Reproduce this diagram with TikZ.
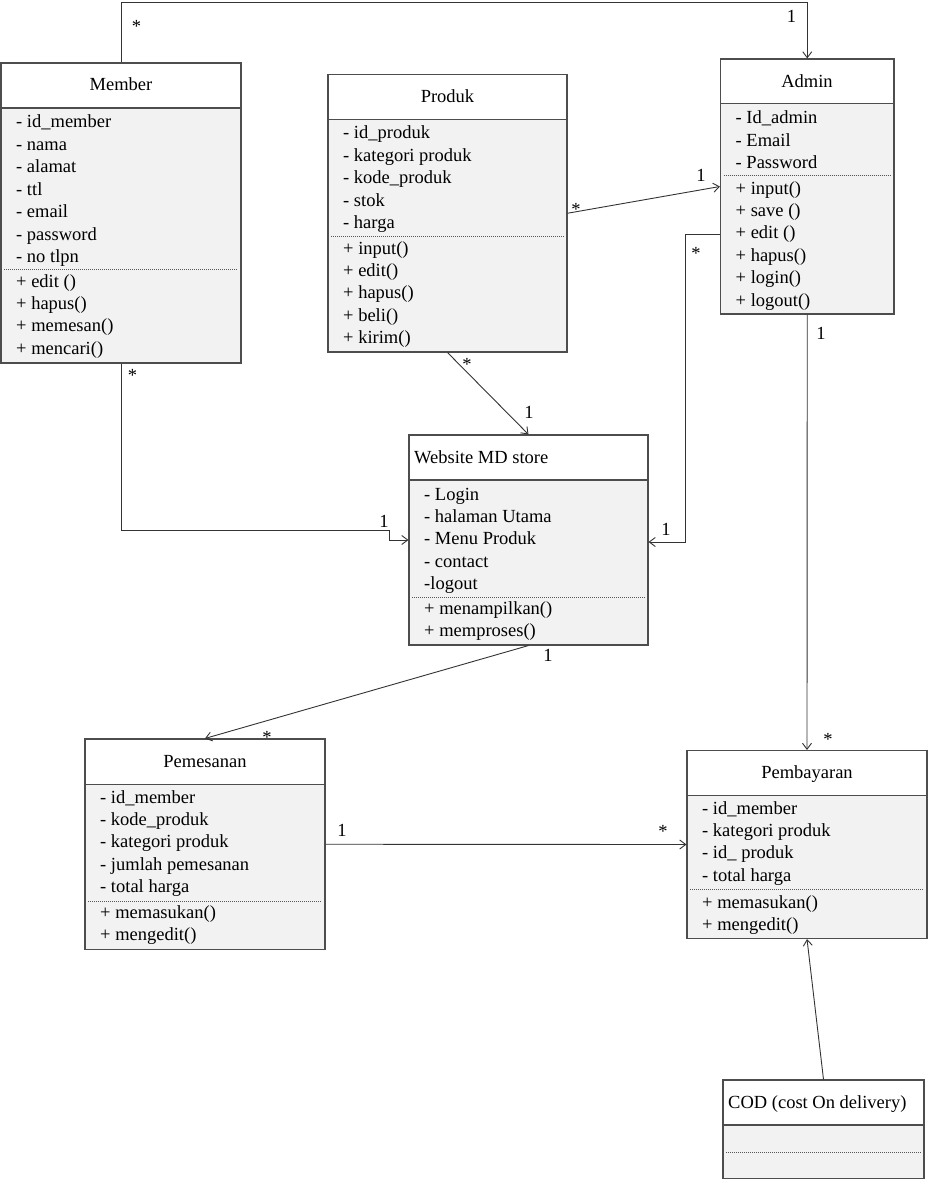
\documentclass[tikz,border=0pt]{standalone}
\usepackage{fontspec}
\setmainfont{Liberation Serif}
\usetikzlibrary{arrows.meta,fit}
\definecolor{compfill}{HTML}{F2F2F2}
\definecolor{boxline}{HTML}{4D4D4D}
\definecolor{connline}{HTML}{333333}
\definecolor{sepcol}{HTML}{555555}
\tikzset{
  classframe/.style={draw=boxline, line width=1.1pt, inner sep=0pt},
  sepline/.style={draw=sepcol, line width=0.8pt, dash pattern=on 1pt off 1pt},
  memtext/.style={anchor=base west, inner sep=0pt, font=\fontsize{18.5}{22}\selectfont},
  titletext/.style={anchor=base, inner sep=0pt, font=\fontsize{18.5}{22}\selectfont},
  titleleft/.style={anchor=base west, inner sep=0pt, font=\fontsize{18.5}{22}\selectfont},
  mult/.style={anchor=base, inner sep=0pt, font=\fontsize{18.5}{22}\selectfont},
  assoc/.style={draw=connline, line width=0.9pt, -{Straight Barb[length=6pt,width=9pt]}}
}
\newcommand{\umlclass}[7]{%
  \fill[compfill] (#2,#6) rectangle (#4,#5);
  \node[classframe, fit={(#2,#3) (#4,#5)}] (#1) {};
  \draw[boxline, line width=1.1pt] (#2,#6) -- (#4,#6);
  \draw[sepline] ({#2+3},#7) -- ({#4-3},#7);
}
\newcommand{\umllines}[4]{%
  \foreach \t [count=\i] in {#4}
    \node[memtext] (#1-\i) at (#2,{#3+(\i-1)*22.45}) {\t};
}
\begin{document}
\begin{tikzpicture}[x=1pt,y=-1pt]
\useasboundingbox (0,0) rectangle (928,1180);
\fill[white] (0,0) rectangle (928,1180);

% Member
\umlclass{member}{1}{63}{241}{363}{108}{269.5}
\node[titletext] (member-title) at (121,91) {Member};
\umllines{member-a}{16}{128}{{- id\_member},{- nama},{- alamat},{- ttl},{- email},{- password},{- no tlpn}}
\umllines{member-m}{16}{287}{{+ edit ()},{+ hapus()},{+ memesan()},{+ mencari()}}

% Produk
\umlclass{produk}{328}{74.5}{567}{352}{119.5}{236}
\node[titletext] (produk-title) at (447.5,102.5) {Produk};
\umllines{produk-a}{343}{139}{{- id\_produk},{- kategori produk},{- kode\_produk},{- stok},{- harga}}
\umllines{produk-m}{343}{254}{{+ input()},{+ edit()},{+ hapus()},{+ beli()},{+ kirim()}}

% Admin
\umlclass{admin}{720.5}{59}{894}{314}{103.5}{175}
\node[titletext] (admin-title) at (807,87.5) {Admin};
\umllines{admin-a}{735.5}{124}{{- Id\_admin},{- Email},{- Password}}
\umllines{admin-m}{735.5}{194}{{+ input()},{+ save ()},{+ edit ()},{+ hapus()},{+ login()},{+ logout()}}

% Website MD store
\umlclass{website}{409}{435}{648}{645}{480}{597}
\node[titleleft] (website-title) at (414,463) {Website MD store};
\umllines{website-a}{424}{500}{{- Login},{- halaman Utama},{- Menu Produk},{- contact},{-logout}}
\umllines{website-m}{424}{614}{{+ menampilkan()},{+ memproses()}}

% Pemesanan
\umlclass{pemesanan}{85}{739}{325}{949.5}{784.5}{901}
\node[titletext] (pemesanan-title) at (205,767) {Pemesanan};
\umllines{pemesanan-a}{100}{803}{{- id\_member},{- kode\_produk},{- kategori produk},{- jumlah pemesanan},{- total harga}}
\umllines{pemesanan-m}{100}{918}{{+ memasukan()},{+ mengedit()}}

% Pembayaran
\umlclass{pembayaran}{687}{750.5}{927}{938.5}{795.5}{889.5}
\node[titletext] (pembayaran-title) at (807,778.5) {Pembayaran};
\umllines{pembayaran-a}{702}{814}{{- id\_member},{- kategori produk},{- id\_ produk},{- total harga}}
\umllines{pembayaran-m}{702}{908}{{+ memasukan()},{+ mengedit()}}

% COD
\umlclass{cod}{723}{1080}{924}{1178.3}{1125}{1152}
\node[titleleft] (cod-title) at (728,1108) {COD (cost On delivery)};

% Connectors
\draw[assoc] (member.north) -- ([yshift=59.5pt]member.north) -| (admin.north);
\draw[assoc] (produk.east) -- (admin.west);
\draw[assoc] ([yshift=-47.5pt]admin.west) -| ([xshift=36.5pt,yshift=-2pt]website.east) -- ([yshift=-2pt]website.east);
\draw[assoc] (admin.south) -- (pembayaran.north);
\draw[assoc] (member.south) |- ([xshift=-19pt,yshift=10pt]website.west) |- (website.west);
\draw[assoc] (produk.south) -- (website.north);
\draw[assoc] (website.south) -- (pemesanan.north);
\draw[assoc] (pemesanan.east) -- (pembayaran.west);
\draw[assoc] (cod.north) -- (pembayaran.south);

% Multiplicities
\node[mult] (l1) at (136.5,32.5) {*};
\node[mult] (l2) at (791.5,22.5) {1};
\node[mult] (l3) at (576,215) {*};
\node[mult] (l4) at (701,181) {1};
\node[mult] (l5) at (696,259) {*};
\node[mult] (l6) at (666,535.5) {1};
\node[mult] (l7) at (821,339.5) {1};
\node[mult] (l8) at (828,745.5) {*};
\node[mult] (l9) at (132.5,381.5) {*};
\node[mult] (l10) at (384,527.5) {1};
\node[mult] (l11) at (467,370.5) {*};
\node[mult] (l12) at (529,418.5) {1};
\node[mult] (l13) at (548,661.5) {1};
\node[mult] (l14) at (267,743.5) {*};
\node[mult] (l15) at (342,836.5) {1};
\node[mult] (l16) at (663,837.5) {*};
\end{tikzpicture}
\end{document}
